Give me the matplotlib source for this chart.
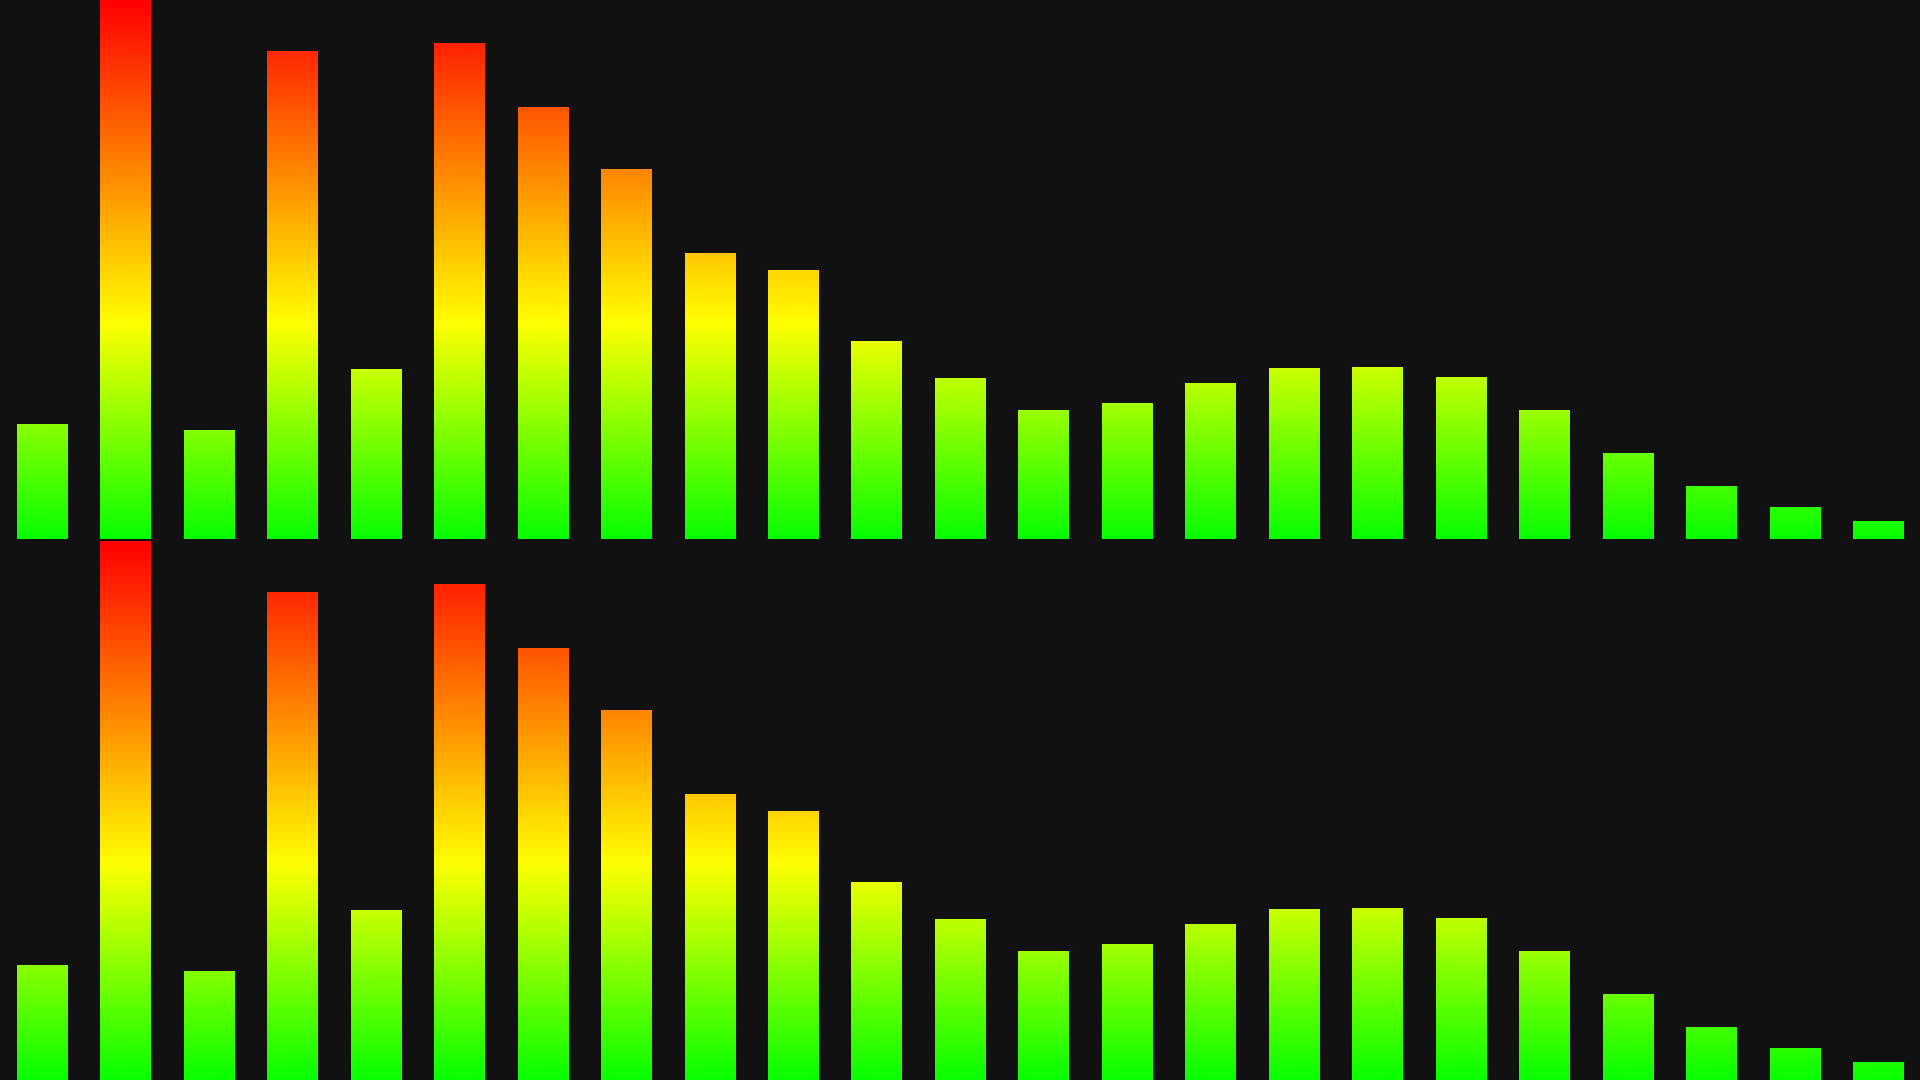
import numpy as np
import matplotlib
matplotlib.use("Agg")
import matplotlib.pyplot as plt
from matplotlib.colors import LinearSegmentedColormap

# Data (relative levels, max = 100)
categories = list(range(23))
values = [21.4, 100.0, 20.2, 90.5, 31.6, 92.0, 80.2, 68.6, 53.0, 50.0, 36.8,
          29.8, 23.9, 25.2, 28.9, 31.8, 32.0, 30.0, 23.9, 15.9, 9.8, 5.9, 3.4]
panels = [values, values]

BG = "#111111"
cmap = LinearSegmentedColormap.from_list(
    "meter", [(0.0, "#08ff00"), (0.4, "#ffff00"), (1.0, "#ff0000")])

fig = plt.figure(figsize=(19.2, 10.8), dpi=100, facecolor=BG)
h = 539 / 1080
axes_boxes = [[0, 541 / 1080, 1, h], [0, 0, 1, h]]

grad = np.linspace(0, 1, 512).reshape(-1, 1)
ymax = 100.0

for box, vals in zip(axes_boxes, panels):
    ax = fig.add_axes(box)
    ax.set_facecolor(BG)
    ax.set_xlim(-0.5, len(categories) - 0.5)
    ax.set_ylim(0, ymax)
    ax.axis("off")
    bars = ax.bar(categories, vals, width=0.6, color="none", edgecolor="none")
    for b in bars:
        x0 = b.get_x()
        x1 = x0 + b.get_width()
        im = ax.imshow(grad, cmap=cmap, origin="lower", aspect="auto",
                       extent=[x0, x1, 0, ymax], vmin=0, vmax=1,
                       interpolation="bilinear")
        im.set_clip_path(b)
    ax.set_xlim(-0.5, len(categories) - 0.5)
    ax.set_ylim(0, ymax)

fig.savefig("out.png", dpi=100, facecolor=BG)
